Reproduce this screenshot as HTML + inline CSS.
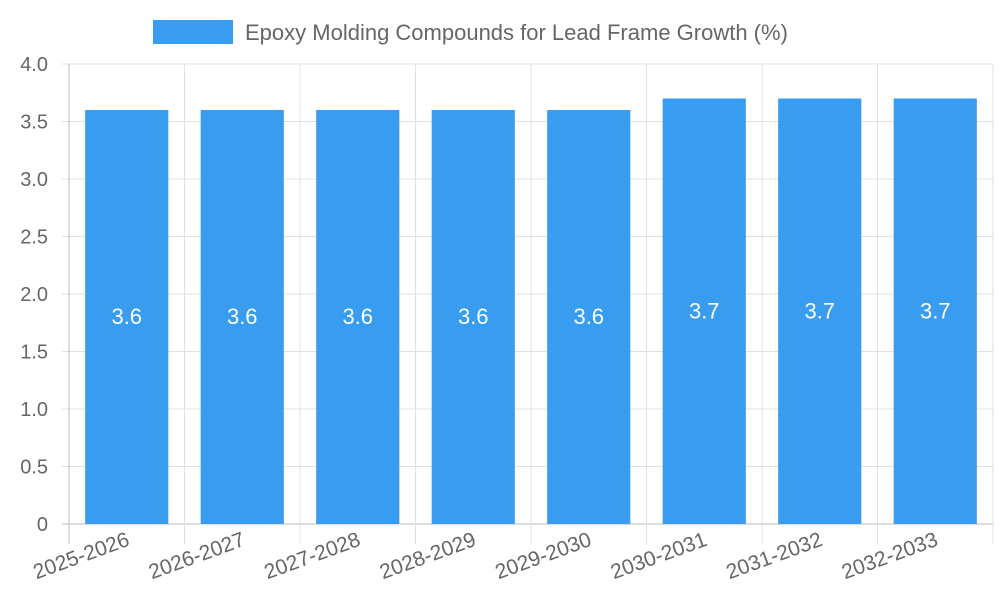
<!DOCTYPE html>
<html><head><meta charset="utf-8"><style>
body{margin:0;background:#fff;font-family:"Liberation Sans",sans-serif}
</style></head><body>
<svg id="c" width="1000" height="600" xmlns="http://www.w3.org/2000/svg" font-family="Liberation Sans, sans-serif"></svg>
<script>
const categories=["2025-2026","2026-2027","2027-2028","2028-2029","2029-2030","2030-2031","2031-2032","2032-2033"];
const values=[3.6,3.6,3.6,3.6,3.6,3.7,3.7,3.7];
const yTicks=[0,0.5,1,1.5,2,2.5,3,3.5,4];
const yTickLabels=["0","0.5","1.0","1.5","2.0","2.5","3.0","3.5","4.0"];
const seriesName="Epoxy Molding Compounds for Lead Frame Growth (%)";
const svg=document.getElementById('c');
const NS="http://www.w3.org/2000/svg";
const L=69,R=993,T=64,B=524,yMax=4;
const y=v=>B-(v/yMax)*(B-T);
const bw=(R-L)/categories.length;
const x=i=>L+bw*i;
function mk(t,a){const e=document.createElementNS(NS,t);for(const k in a)e.setAttribute(k,a[k]);svg.appendChild(e);return e;}
// legend
let e=mk('rect',{x:153,y:20,width:80,height:24,fill:'#389cf0'});


e=mk('text',{x:245,y:40,'font-size':22,fill:'#666'});e.textContent=seriesName;


// grid y
yTicks.forEach((v,i)=>{
 const g=mk('line',{x1:62,x2:R,y1:y(v),y2:y(v),stroke:i==0?'#bbb':'#e0e0e0','stroke-width':1});
 
 
 const t=mk('text',{x:48,y:y(v)+7,'font-size':20,fill:'#666','text-anchor':'end'});t.textContent=yTickLabels[i];
 
 
});
// grid x
for(let i=0;i<=categories.length;i++){
 const g=mk('line',{x1:x(i),x2:x(i),y1:T,y2:544,stroke:i==0?'#bbb':'#e0e0e0','stroke-width':1});
 
 
}
// bars
values.forEach((v,i)=>{
 const w=bw*0.72,bx=x(i)+(bw-w)/2;
 const b=mk('rect',{x:bx,y:y(v),width:w,height:B-y(v),fill:'#389cf0'});
 
 
 const t=mk('text',{x:x(i)+bw/2,y:(y(v)+B)/2+7,'font-size':22,fill:'#fff','text-anchor':'middle'});t.textContent=String(v);
 
 
 const c=x(i)+bw/2+4;
 const l=mk('text',{x:c,y:545,'font-size':21,fill:'#666','text-anchor':'end',transform:`rotate(-20 ${c} 545)`});l.textContent=categories[i];
 
 
});
</script>
</body></html>
